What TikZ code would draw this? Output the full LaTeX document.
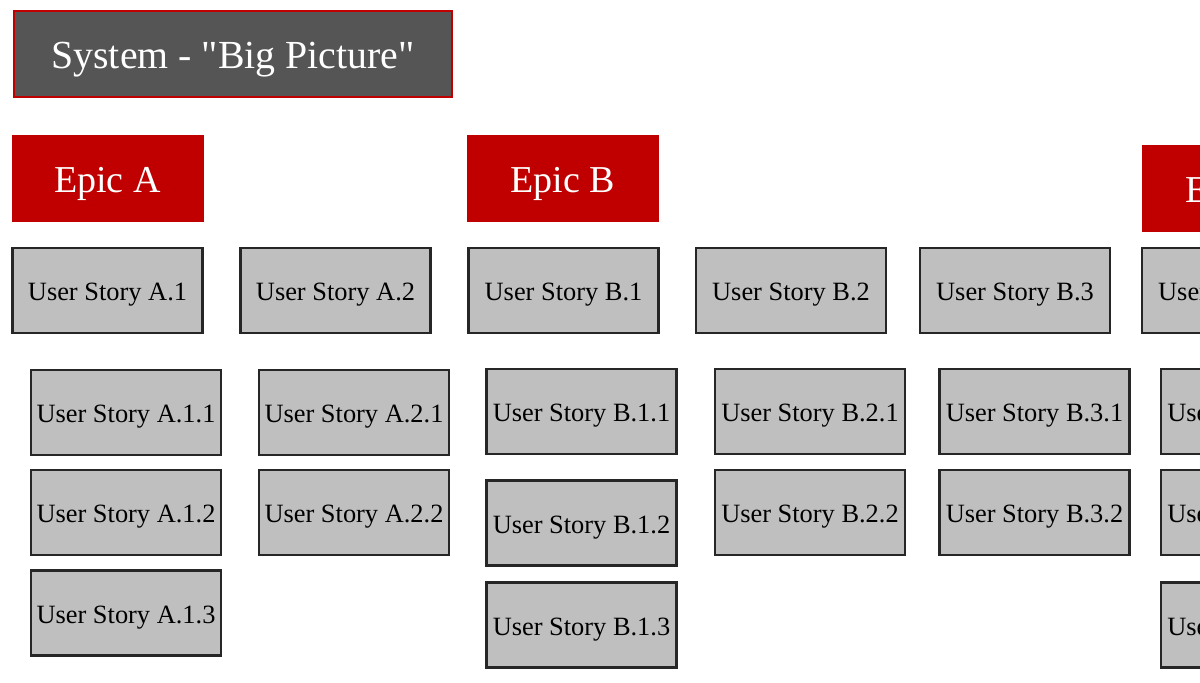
\documentclass[tikz,border=0pt]{standalone}
\usepackage{fontspec}
\setmainfont{Liberation Serif}
\definecolor{epicred}{RGB}{192,0,0}
\definecolor{storygray}{RGB}{191,191,191}
\definecolor{titlegray}{RGB}{85,85,85}
\definecolor{edgegray}{RGB}{38,38,38}
\tikzset{
  story/.style={draw=edgegray, line width=1.3pt, fill=storygray,
    minimum width=95pt, minimum height=42.5pt, inner sep=0pt,
    text height=10pt, text depth=0pt,
    font=\fontsize{13.2}{15}\selectfont},
  epic/.style={fill=epicred, text=white, minimum width=96pt,
    minimum height=43.5pt, inner sep=0pt, text height=14pt, text depth=0pt,
    font=\fontsize{19}{22}\selectfont},
}
\begin{document}
\begin{tikzpicture}[x=0.5pt,y=-0.5pt]

  % Frame
  \useasboundingbox (0,0) rectangle (1200,682);
  \clip (0,0) rectangle (1200,682);

  % Title
  \node[draw=epicred, line width=0.8pt, fill=titlegray, text=white,
    minimum width=219pt, minimum height=43pt, inner sep=0pt,
    text height=14pt, text depth=0pt,
    font=\fontsize{19.9}{23}\selectfont] (system) at (233,54)
    {System - \textquotedbl Big Picture\textquotedbl};

  % Epics
  \node[epic] (epicA) at (107.5,178.5) {Epic A};
  \node[epic] (epicB) at (563,178.5) {Epic B};
  \node[epic] (epicC) at (1238,188.5) {Epic C};

  % User stories
  \node[story] (storyA1) at (107.5,290.5) {User Story A.1};
  \node[story] (storyA2) at (335.5,290.5) {User Story A.2};
  \node[story] (storyB1) at (563.5,290.5) {User Story B.1};
  \node[story] (storyB2) at (791,290.5) {User Story B.2};
  \node[story] (storyB3) at (1015,290.5) {User Story B.3};
  \node[story] (storyC1) at (1237,290.5) {User Story C.1};

  % Sub-stories
  \node[story] (storyA11) at (126,412.5) {User Story A.1.1};
  \node[story] (storyA12) at (126,512.5) {User Story A.1.2};
  \node[story] (storyA13) at (126,613) {User Story A.1.3};
  \node[story] (storyA21) at (354,412.5) {User Story A.2.1};
  \node[story] (storyA22) at (354,512.5) {User Story A.2.2};
  \node[story] (storyB11) at (581.5,411.5) {User Story B.1.1};
  \node[story] (storyB12) at (581.5,523) {User Story B.1.2};
  \node[story] (storyB13) at (581.5,625) {User Story B.1.3};
  \node[story] (storyB21) at (810,411.5) {User Story B.2.1};
  \node[story] (storyB22) at (810,512.5) {User Story B.2.2};
  \node[story] (storyB31) at (1034.5,411.5) {User Story B.3.1};
  \node[story] (storyB32) at (1034.5,512.5) {User Story B.3.2};
  \node[story] (storyC11) at (1256,411.5) {User Story C.1.1};
  \node[story] (storyC12) at (1256,512.5) {User Story C.1.2};
  \node[story] (storyC13) at (1256,625) {User Story C.1.3};

\end{tikzpicture}
\end{document}
